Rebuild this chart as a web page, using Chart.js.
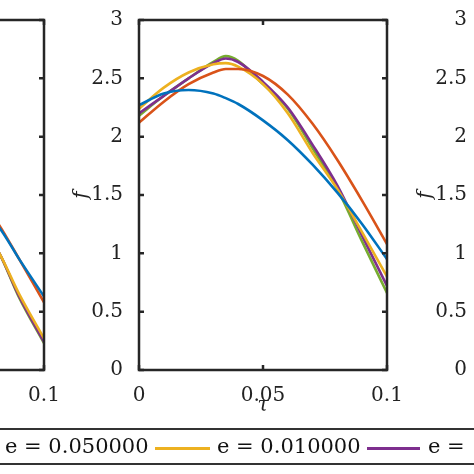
<!DOCTYPE html>
<html><head><meta charset="utf-8">
<script src="https://cdn.jsdelivr.net/npm/chart.js@4"></script>
<style>
body{margin:0;background:#fff;}
#wrap{position:relative;width:474px;height:474px;overflow:hidden;background:#fff;}
canvas{position:absolute;top:0;}
.leg{position:absolute;top:428px;left:-10px;width:500px;height:33px;border-top:2.5px solid #333;border-bottom:2.5px solid #333;font-family:"DejaVu Serif",serif;font-size:21px;color:#111;}
.leg span{position:absolute;top:4px;white-space:nowrap;}
.leg i{position:absolute;top:17px;height:2.5px;}
</style></head><body>
<div id="wrap">
<div id="cl" style="position:absolute;left:-343px;top:0;width:474px;height:420px"><canvas id="left"></canvas></div>
<div id="cm" style="position:absolute;left:0;top:0;width:474px;height:420px"><canvas id="mid"></canvas></div>
<div id="cr" style="position:absolute;left:344px;top:0;width:474px;height:420px"><canvas id="right"></canvas></div>
<div class="leg">
  <span style="left:15px">e = 0.050000</span>
  <i style="left:165px;width:55px;background:#EDB120"></i>
  <span style="left:227px">e = 0.010000</span>
  <i style="left:377px;width:53px;background:#7E2F8E"></i>
  <span style="left:438px">e =</span>
</div>
</div>
<script>
const colors = ['#0072BD','#D95319','#EDB120','#7E2F8E','#77AC30'];
const yTicks = [0,0.5,1,1.5,2,2.5,3];
const xTicks = [0,0.05,0.1];

// middle panel
const tauMid = [0,0.01,0.02,0.03,0.035,0.04,0.05,0.06,0.07,0.08,0.09,0.1];
const midBlue   = [2.27,2.37,2.40,2.37,2.33,2.28,2.14,1.97,1.76,1.52,1.25,0.95];
const midOrange = [2.12,2.30,2.45,2.55,2.58,2.58,2.52,2.36,2.11,1.80,1.45,1.08];
const midYellow = [2.24,2.42,2.55,2.62,2.63,2.60,2.45,2.20,1.86,1.55,1.18,0.80];
const midPurple = [2.20,2.35,2.50,2.63,2.67,2.64,2.47,2.25,1.93,1.58,1.15,0.72];
const midGreen  = [2.18,2.35,2.50,2.64,2.69,2.65,2.45,2.24,1.90,1.55,1.10,0.66];

// left panel (only the right edge is visible)
const tauLeft = [0,0.02,0.04,0.06,0.082,0.09,0.1];
const leftBlue   = [2.3,2.4,2.2,1.7,1.22,0.95,0.63];
const leftOrange = [2.1,2.5,2.5,1.9,1.24,0.95,0.58];
const leftYellow = [2.2,2.6,2.4,1.7,1.00,0.65,0.27];
const leftPurple = [2.2,2.6,2.4,1.7,1.00,0.63,0.24];
const leftGreen  = [2.2,2.6,2.4,1.7,1.00,0.62,0.23];

// right panel (off screen apart from its y axis)
const tauRight = [0,0.05,0.1];
const rightVals = [2.2,2.5,1.0];

const boxPlugin = {
  id:'box',
  afterDraw(c){
    const {ctx, chartArea:a, scales} = c;
    ctx.save();
    ctx.strokeStyle='#262626'; ctx.lineWidth=2.5;
    ctx.strokeRect(a.left,a.top,a.right-a.left,a.bottom-a.top);
    yTicks.forEach(v=>{
      const y=scales.y.getPixelForValue(v);
      ctx.beginPath();ctx.moveTo(a.left,y);ctx.lineTo(a.left+5,y);
      ctx.moveTo(a.right,y);ctx.lineTo(a.right-5,y);ctx.stroke();
    });
    xTicks.forEach(v=>{
      const x=scales.x.getPixelForValue(v);
      ctx.beginPath();ctx.moveTo(x,a.bottom);ctx.lineTo(x,a.bottom-5);
      ctx.moveTo(x,a.top);ctx.lineTo(x,a.top+5);ctx.stroke();
    });
    ctx.restore();
  }
};

function pts(xs, ys){ return xs.map((x,i)=>({x:x,y:ys[i]})); }

function makeChart(id, xs, series){
  return new Chart(document.getElementById(id), {
    type:'line',
    data:{datasets: series.map((s,i)=>({
      data: pts(xs, s), borderColor: colors[i], borderWidth: 2.6,
      pointRadius: 0, cubicInterpolationMode: 'monotone', fill:false
    }))},
    options:{
      responsive:true, maintainAspectRatio:false, animation:false,
      layout:{padding:{left:70,right:87,top:13,bottom:0}},
      plugins:{legend:{display:false},tooltip:{enabled:false}},
      scales:{
        x:{type:'linear',min:0,max:0.1,
          afterBuildTicks(ax){ax.ticks=xTicks.map(v=>({value:v}));},
          afterFit(ax){ax.height=50;},
          grid:{display:false},border:{display:false},
          ticks:{color:'#222',font:{family:'DejaVu Serif',size:20},padding:6,maxRotation:0,
            callback:v=>String(v)},
          title:{display:true,text:'τ',color:'#222',padding:{top:0,bottom:2},font:{family:'DejaVu Serif',size:20,style:'italic'}}
        },
        y:{min:0,max:3,
          afterBuildTicks(ax){ax.ticks=yTicks.map(v=>({value:v}));},
          afterFit(ax){ax.width=69;},
          grid:{display:false},border:{display:false},
          ticks:{color:'#222',font:{family:'DejaVu Serif',size:20},padding:8,callback:v=>String(v)},
          title:{display:true,text:'f',color:'#222',padding:{top:0,bottom:4},font:{family:'DejaVu Serif',size:20,style:'italic'}}
        }
      }
    },
    plugins:[boxPlugin]
  });
}

makeChart('left', tauLeft, [leftBlue,leftOrange,leftYellow,leftPurple,leftGreen]);
makeChart('mid', tauMid, [midBlue,midOrange,midYellow,midPurple,midGreen]);
makeChart('right', tauRight, [rightVals]);
</script>
</body></html>
